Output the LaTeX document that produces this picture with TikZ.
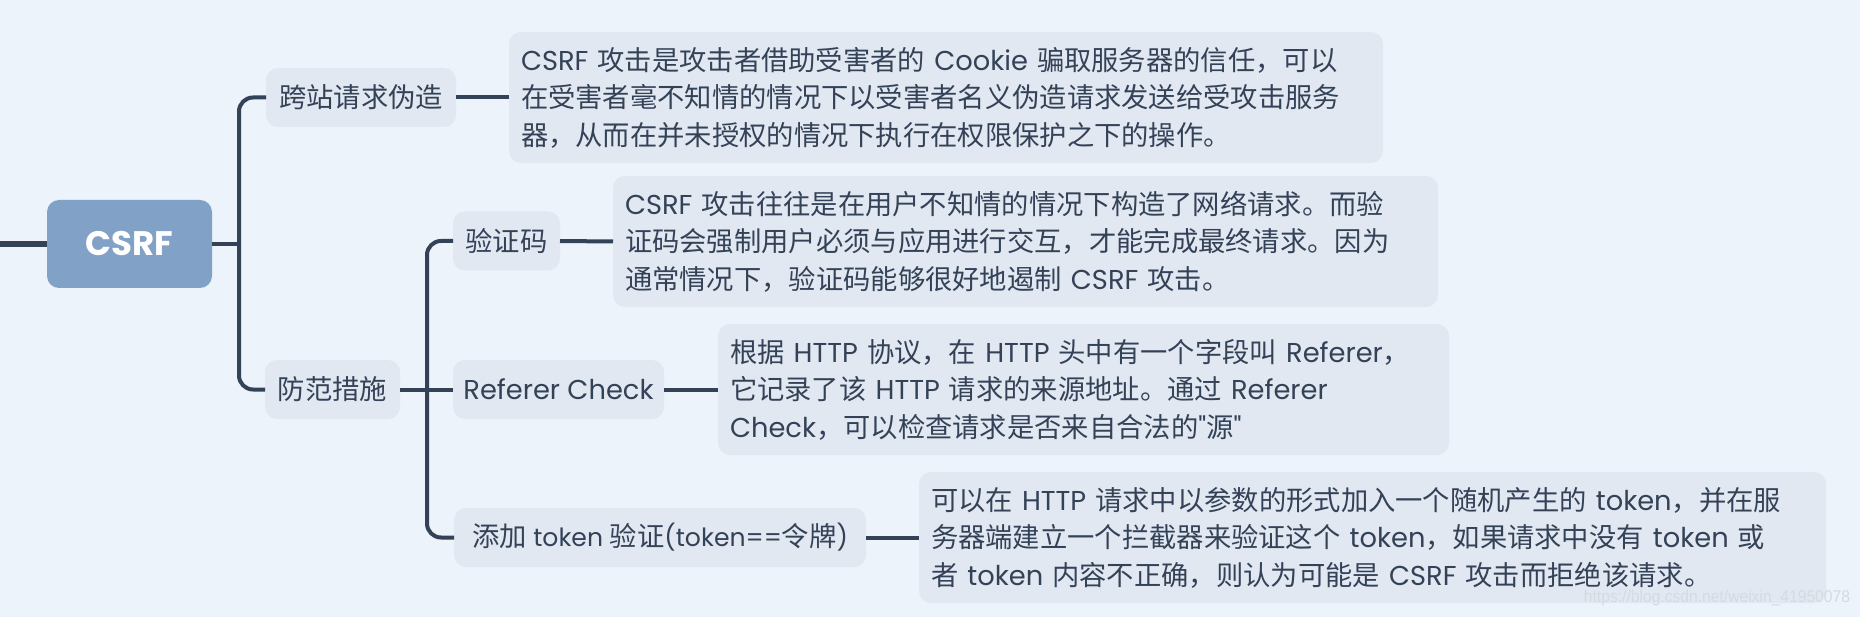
\documentclass[tikz,border=0pt]{standalone}
\usepackage{fontspec}
\setmainfont{Noto Sans CJK SC}
\newfontfamily\cn{Noto Sans CJK SC}
\newfontfamily\lat{Poppins}[WordSpace=1.6]
\newfontfamily\latn{Poppins}
\newfontfamily\lats{Poppins}[Scale=0.92]
\newcommand\latw[1]{{\lat #1}}
\newfontfamily\wmfont{Liberation Sans}
\definecolor{bgc}{RGB}{236,243,250}
\definecolor{boxc}{RGB}{225,232,241}
\definecolor{rootc}{RGB}{130,161,199}
\definecolor{inkc}{RGB}{52,66,88}
\definecolor{wmc}{RGB}{212,218,226}
\begin{document}
\begin{tikzpicture}[x=1pt,y=-1pt,
  every node/.style={inner sep=0pt,outer sep=0pt},
  rootbox/.style={fill=rootc,rounded corners=12pt,minimum width=165pt,minimum height=88pt,
    text=white,font=\latn\fontsize{34}{40}\selectfont\bfseries},
  topic/.style={fill=boxc,rounded corners=12pt,minimum height=59pt,text=inkc,
    font=\cn\fontsize{27.3}{32}\selectfont},
  desc/.style={fill=boxc,rounded corners=12pt,minimum height=131pt,text=inkc,align=left,
    font=\cn\fontsize{27.3}{37.5}\selectfont},
  link/.style={draw=inkc,line width=4pt},
  trunk/.style={draw=inkc,line width=4pt,rounded corners=14pt}
]
\useasboundingbox (0,0) rectangle (1860,617);
\fill[bgc] (0,0) rectangle (1860,617);

\node[rootbox] (csrf) at (129.5,244) {CSRF};
\node[topic,minimum width=190pt] (kz) at (361,97.5) {跨站请求伪造};
\node[topic,minimum width=135pt] (ff) at (332.5,389.5) {防范措施};
\node[topic,minimum width=107pt] (yzm) at (506.5,241) {验证码};
\node[topic,minimum width=211pt] (rc) at (558.5,389.5) {{\latn Referer Check}};
\node[topic,minimum width=412pt] (tk) at (660,537.5) {添加{\lats\ token }验证{\lats(token==}令牌{\lats)}};

\node[desc,minimum width=874pt,text width=850pt] (d1) at (946,97.5)
  {\latw{CSRF }攻击是攻击者借助受害者的\latw{ Cookie }骗取服务器的信任，可以\\
   在受害者毫不知情的情况下以受害者名义伪造请求发送给受攻击服务\\
   器，从而在并未授权的情况下执行在权限保护之下的操作。};
\node[desc,minimum width=825pt,text width=801pt] (d2) at (1025.5,241.5)
  {\latw{CSRF }攻击往往是在用户不知情的情况下构造了网络请求。而验\\
   证码会强制用户必须与应用进行交互，才能完成最终请求。因为\\
   通常情况下，验证码能够很好地遏制\latw{ CSRF }攻击。};
\node[desc,minimum width=731pt,text width=707pt] (d3) at (1083.5,389.5)
  {根据\latw{ HTTP }协议，在\latw{ HTTP }头中有一个字段叫\latw{ Referer}，\\
   它记录了该\latw{ HTTP }请求的来源地址。通过\latw{ Referer}\\
   \latw{Check}，可以检查请求是否来自合法的\latw{"}源\latw{"}};
\node[desc,minimum width=907pt,text width=883pt] (d4) at (1372.5,537.5)
  {可以在\latw{ HTTP }请求中以参数的形式加入一个随机产生的\latw{ token}，并在服\\
   务器端建立一个拦截器来验证这个\latw{ token}，如果请求中没有\latw{ token }或\\
   者\latw{ token }内容不正确，则认为可能是\latw{ CSRF }攻击而拒绝该请求。};

\coordinate (in) at (0,244);
\coordinate (t1) at (239,244);
\coordinate (t2) at (427,389.5);

\draw[draw=inkc,line width=6pt] (in) -- (csrf.west);
\draw[link] (csrf.east) -- (t1);
\draw[trunk] (kz.west) -| (t1) |- (ff.west);
\draw[link] (kz.east) -- (d1.west);
\draw[link] (ff.east) -- (rc.west);
\draw[trunk] (yzm.west) -| (t2) |- (tk.west);
\draw[link] (yzm.east) -- (d2.west);
\draw[link] (rc.east) -- (d3.west);
\draw[link] (tk.east) -- (d4.west);

\node[anchor=east,text=wmc,font=\wmfont\fontsize{17}{20}\selectfont,xscale=0.92] (wm) at (1850,598)
  {https://blog.csdn.net/weixin\_41950078};
\end{tikzpicture}
\end{document}
